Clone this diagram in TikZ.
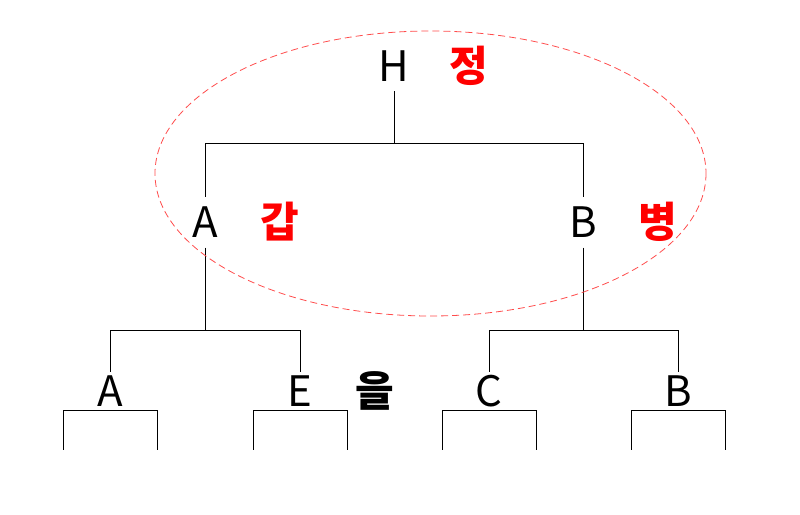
\documentclass[tikz,border=0pt]{standalone}
\usepackage{fontspec}
\setmainfont{Noto Sans CJK KR}
\usetikzlibrary{positioning}
\tikzstyle{lbl}  = [inner sep=0pt, outer sep=10pt, text height=31pt, text depth=0pt, font=\fontsize{42}{42}\selectfont]
\tikzstyle{leaf} = [lbl, outer sep=4pt]
\tikzstyle{kor}  = [lbl, text=red, font=\fontsize{42}{42}\selectfont\bfseries]
\tikzstyle{fork} = [draw, line width=0.8pt]
\tikzstyle{ring} = [draw=red!70, dash pattern=on 7pt off 4pt, line width=0.8pt]

\begin{document}
\begin{tikzpicture}[x=1pt, y=-1pt, node distance=75pt]
\useasboundingbox (0,0) rectangle (800,514);

%root and first level
\node [lbl                 ]  (h)      at (394,65.5) {H};
\node [kor, right of=h     ]  (jeong)  {정};
\node [lbl                 ]  (a)      at (205,222)  {A};
\node [kor, right of=a     ]  (gap)    {갑};
\node [lbl                 ]  (b)      at (583,222)  {B};
\node [kor, right of=b     ]  (byeong) {병};

% second level
\node [leaf                ]  (aa)     at (110,391)  {A};
\node [leaf                ]  (ae)     at (300,391)  {E};
\node [kor, right of=ae, text=black]  (eul) {을};
\node [leaf                ]  (bc)     at (489,391)  {C};
\node [leaf                ]  (bb)     at (678,391)  {B};

% forks
\path [fork] (h.south) -- ++(0,52) coordinate (hm) -| (a.north)
             (hm) -| (b.north);
\path [fork] (a.south) -- ++(0,83) coordinate (am) -| (aa.north)
             (am) -| (ae.north);
\path [fork] (b.south) -- ++(0,83) coordinate (bm) -| (bc.north)
             (bm) -| (bb.north);

% open brackets under the leaves
\foreach \n in {aa, ae, bc, bb}
  \path [fork] (\n.south) +(-47,39) -- +(-47,0) -- +(47,0) -- +(47,39);

% dashed ring
\draw [ring] (430.5,173.5) ellipse [x radius=275.5, y radius=142.5];

\end{tikzpicture}
\end{document}
